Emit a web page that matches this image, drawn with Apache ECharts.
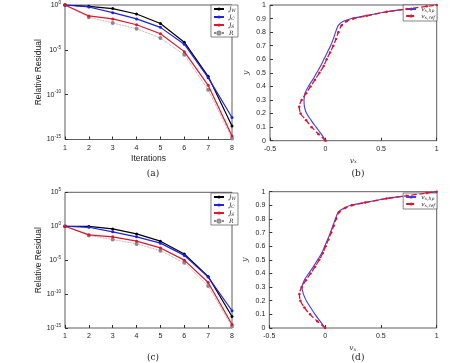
<!DOCTYPE html>
<html><head><meta charset="utf-8">
<script src="https://cdn.jsdelivr.net/npm/echarts@6/dist/echarts.min.js"></script>
<style>html,body{margin:0;padding:0;background:#fff}#c{width:474px;height:363px}</style>
</head><body><div id="c"></div>
<script>
// iterations
const iterations = [1, 2, 3, 4, 5, 6, 7, 8];
const resNames = ['JW', 'JC', 'JS', 'R'];
// panel (a) relative residuals
const aJW = [1, 0.71, 0.40, 0.1, 8.5e-3, 7.1e-5, 1.1e-8, 3.2e-14];
const aJC = [1, 0.6, 0.14, 2.8e-2, 3.2e-3, 4.3e-5, 7.9e-9, 2.8e-13];
const aJS = [1, 6e-2, 2.8e-2, 6.3e-3, 6.3e-4, 6.3e-6, 1.1e-9, 2.5e-15];
const aR  = [1, 4.3e-2, 1e-2, 2.3e-3, 2.1e-4, 2.8e-6, 3.6e-10, 1.3e-15];
// panel (c) relative residuals
const cJW = [1, 0.95, 0.4, 7.4e-2, 6.3e-3, 7.9e-5, 4e-8, 5e-14];
const cJC = [1, 0.7, 0.15, 2.7e-2, 3.2e-3, 5e-5, 3.2e-8, 3.5e-13];
const cJS = [1, 5.4e-2, 2.7e-2, 6.3e-3, 6.3e-4, 1e-5, 5e-9, 3.2e-15];
const cR  = [1, 4.3e-2, 1.1e-2, 2.5e-3, 2.5e-4, 4e-6, 1.6e-9, 1.6e-15];
// velocity profiles: y positions
const yLevels = [0, 0.05, 0.1, 0.15, 0.2, 0.25, 0.3, 0.35, 0.4, 0.45, 0.5, 0.55, 0.6, 0.65, 0.7, 0.75, 0.8, 0.85, 0.88, 0.9, 0.92, 0.95, 0.97, 0.99, 1];
const bHp  = [0, -0.04, -0.085, -0.13, -0.17, -0.19, -0.194, -0.185, -0.155, -0.115, -0.08, -0.045, -0.015, 0.015, 0.045, 0.07, 0.09, 0.115, 0.16, 0.235, 0.355, 0.55, 0.73, 0.91, 1];
const bRef = [0, -0.065, -0.125, -0.175, -0.225, -0.237, -0.215, -0.175, -0.135, -0.095, -0.055, -0.017, 0.01, 0.04, 0.07, 0.094, 0.115, 0.145, 0.19, 0.25, 0.37, 0.55, 0.73, 0.91, 1];
const dHp  = [0, -0.045, -0.09, -0.13, -0.168, -0.195, -0.207, -0.187, -0.148, -0.105, -0.067, -0.03, -0.004, 0.023, 0.047, 0.07, 0.092, 0.118, 0.17, 0.23, 0.35, 0.55, 0.73, 0.91, 1];
const dRef = [0, -0.07, -0.135, -0.186, -0.222, -0.23, -0.21, -0.172, -0.13, -0.09, -0.052, -0.02, 0.005, 0.03, 0.055, 0.077, 0.098, 0.125, 0.18, 0.24, 0.36, 0.55, 0.73, 0.91, 1];

const SANS = 'Liberation Sans';
const SERIF = 'DejaVu Serif';
const colors = {JW: '#000000', JC: '#1f1fe6', JS: '#e3132b', R: '#8a8a8a'};
const legendLabel = {JW: '{i|J}{s|W}', JC: '{i|J}{s|C}', JS: '{i|J}{s|S}', R: '{i|R}'};

const chart = echarts.init(document.getElementById('c'), null, {renderer: 'canvas'});

const grids = [
  {left: 65, top: 4.5, width: 167, height: 135},
  {left: 270, top: 5, width: 166.7, height: 135.7},
  {left: 65, top: 192.3, width: 167, height: 135.7},
  {left: 269.3, top: 191.7, width: 167.4, height: 136.3}
].map(g => Object.assign({show: true, borderColor: '#333', borderWidth: 0.8, backgroundColor: '#fff'}, g));

const tickLab = {fontSize: 7, color: '#222', fontFamily: SANS};
const supRich = {b: {fontSize: 7, fontFamily: SANS, color: '#222'}, e: {fontSize: 4.5, fontFamily: SANS, color: '#222', padding: [0, 0, 5, 0]}};
function logFmt(v) { const n = Math.round(Math.log10(v)); return '{b|10}{e|' + n + '}'; }
const tick = {inside: true, length: 3, lineStyle: {color: '#333'}};
const noLine = {show: false, onZero: false};

function iterAxis(idx, showName) {
  return {gridIndex: idx, type: 'value', min: 1, max: 8, interval: 1,
    axisLine: noLine, axisTick: tick,
    splitLine: {show: false}, axisLabel: Object.assign({margin: 5}, tickLab),
    name: showName ? 'Iterations' : '', nameLocation: 'middle', nameGap: 15,
    nameTextStyle: {fontSize: 8.5, fontFamily: SANS, color: '#222'}};
}
function logAxis(idx, max) {
  return {gridIndex: idx, type: 'log', logBase: 10, min: 1e-15, max: max, interval: 5,
    axisLine: noLine, axisTick: tick,
    splitLine: {show: false}, minorTick: {show: false},
    axisLabel: {formatter: logFmt, rich: supRich, margin: 4},
    name: 'Relative Residual', nameLocation: 'middle', nameGap: 22, nameRotate: 90,
    nameTextStyle: {fontSize: 8.5, fontFamily: SANS, color: '#222'}};
}
function vxAxis(idx) {
  return {gridIndex: idx, type: 'value', min: -0.5, max: 1, interval: 0.5,
    axisLine: noLine, axisTick: tick,
    splitLine: {show: false}, axisLabel: Object.assign({margin: 5}, tickLab),
    name: '{i|v}{s|x}', nameLocation: 'middle', nameGap: 16,
    nameTextStyle: {rich: {i: {fontSize: 7, fontStyle: 'italic', fontFamily: SERIF, color: '#222'}, s: {fontSize: 5, fontStyle: 'italic', fontFamily: SERIF, color: '#222', padding: [3, 0, 0, 0]}}}};
}
function yAxisProf(idx) {
  return {gridIndex: idx, type: 'value', min: 0, max: 1, interval: 0.1,
    axisLine: noLine, axisTick: tick,
    splitLine: {show: false}, axisLabel: Object.assign({margin: 4}, tickLab),
    name: 'y', nameLocation: 'middle', nameGap: 20, nameRotate: 90,
    nameTextStyle: {fontSize: 8, fontStyle: 'italic', fontFamily: SERIF, color: '#222'}};
}

function resSeries(name, data, xi) {
  const dotted = name === 'R';
  return {name: name, type: 'line', xAxisIndex: xi, yAxisIndex: xi,
    data: iterations.map((it, i) => [it, data[i]]),
    symbol: dotted ? 'emptyCircle' : 'circle', symbolSize: dotted ? 2 : 3,
    itemStyle: {color: colors[name]},
    lineStyle: {color: colors[name], width: dotted ? 0.8 : 1.2, type: dotted ? 'dotted' : 'solid'},
    z: dotted ? 2 : (name === 'JW' ? 3 : 4)};
}
function profSeries(name, xs, idx, isRef) {
  return {name: name, type: 'line', xAxisIndex: idx, yAxisIndex: idx,
    data: yLevels.map((y, i) => [xs[i], y]), smooth: 0.3,
    symbol: isRef ? 'circle' : 'none', symbolSize: 2.5,
    itemStyle: {color: isRef ? '#e3132b' : '#3c3cf0'},
    lineStyle: {color: isRef ? '#e3132b' : '#3c3cf0', width: isRef ? 1.3 : 1.1, type: isRef ? 'dashed' : 'solid'},
    z: isRef ? 4 : 3};
}

const legendRich = {i: {fontSize: 6, fontStyle: 'italic', fontFamily: SERIF, color: '#222'}, s: {fontSize: 4.5, fontStyle: 'italic', fontFamily: SERIF, color: '#222', padding: [3, 0, 0, 0]}};
function resLegend(top) {
  return {right: 474 - 238, top: top, orient: 'vertical', itemWidth: 10, itemHeight: 4, itemGap: 1,
    padding: [1, 2, 1, 2], backgroundColor: '#fff', borderColor: '#333', borderWidth: 0.6,
    data: resNames, formatter: n => legendLabel[n], textStyle: {rich: legendRich}, selectedMode: false};
}
function profLegend(top, hp, ref) {
  return {right: 474 - 437, top: top, orient: 'vertical', itemWidth: 10, itemHeight: 4, itemGap: 0,
    padding: [1, 2, 1, 2], backgroundColor: '#fff', borderColor: '#333', borderWidth: 0.6,
    data: [hp, ref], formatter: n => n.indexOf('hp') >= 0 ? '{i|v}{s|x,hp}' : '{i|v}{s|x,ref}',
    textStyle: {rich: legendRich}, selectedMode: false};
}

const captions = [['(a)', 148, 164], ['(b)', 353, 164], ['(c)', 148, 348], ['(d)', 353, 348]];

chart.setOption({
  animation: false,
  grid: grids,
  xAxis: [iterAxis(0, true), vxAxis(1), iterAxis(2, false), vxAxis(3)],
  yAxis: [logAxis(0, 1), yAxisProf(1), logAxis(2, 1e5), yAxisProf(3)],
  legend: [resLegend(5), profLegend(5, 'b_hp', 'b_ref'), resLegend(193), profLegend(193, 'd_hp', 'd_ref')],
  title: captions.map(c => ({text: c[0], left: c[1], top: c[2], textAlign: 'center',
    textStyle: {fontSize: 9, fontWeight: 'normal', fontFamily: SERIF, color: '#222'}})),
  series: [
    resSeries('JW', aJW, 0), resSeries('JC', aJC, 0), resSeries('JS', aJS, 0), resSeries('R', aR, 0),
    profSeries('b_hp', bHp, 1, false), profSeries('b_ref', bRef, 1, true),
    resSeries('JW', cJW, 2), resSeries('JC', cJC, 2), resSeries('JS', cJS, 2), resSeries('R', cR, 2),
    profSeries('d_hp', dHp, 3, false), profSeries('d_ref', dRef, 3, true)
  ]
});
</script></body></html>
